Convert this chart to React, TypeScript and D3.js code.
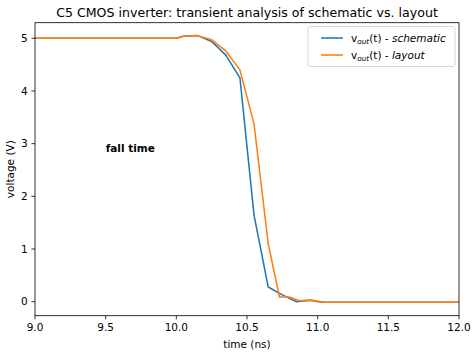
import React from "react";
import * as d3 from "d3";

const schematicTime = [9.0, 10.0, 10.05, 10.15, 10.25, 10.35, 10.45, 10.55, 10.65, 10.75, 10.85, 10.95, 11.0, 11.05, 12.0];
const schematicVout = [5.0, 5.0, 5.04, 5.05, 4.94, 4.68, 4.25, 1.64, 0.28, 0.13, 0.0, 0.03, 0.0, -0.01, -0.01];
const layoutTime = [9.0, 10.0, 10.05, 10.15, 10.25, 10.35, 10.45, 10.55, 10.65, 10.73, 10.8, 10.87, 10.95, 11.05, 12.0];
const layoutVout = [5.0, 5.0, 5.04, 5.05, 4.97, 4.76, 4.4, 3.37, 1.1, 0.09, 0.09, 0.02, 0.03, -0.01, -0.01];
const xTicks = [9.0, 9.5, 10.0, 10.5, 11.0, 11.5, 12.0];
const yTicks = [0, 1, 2, 3, 4, 5];

const W = 474, H = 354;
const L = 35, R = 459, T = 22.7, B = 315.7;
const FONT = "DejaVu Sans, sans-serif";
const BLUE = "#1f77b4", ORANGE = "#ff7f0e";
const FS = 10.5;

export default function App() {
  const x = d3.scaleLinear().domain([9, 12]).range([L, R]);
  const y = d3.scaleLinear().domain([-0.2655, 5.2955]).range([B, T]);
  const line = d3.line<[number, number]>().x(d => x(d[0])).y(d => y(d[1]));
  const s1 = schematicTime.map((t, i) => [t, schematicVout[i]] as [number, number]);
  const s2 = layoutTime.map((t, i) => [t, layoutVout[i]] as [number, number]);

  const legX = 308, legY = 26.5, legW = 147, legH = 40;
  const rows = [
    { color: BLUE, name: "schematic" },
    { color: ORANGE, name: "layout" },
  ];

  return (
    <svg width={W} height={H} style={{ position: "absolute", left: 0, top: 0 }} fontFamily={FONT}>
      <rect width={W} height={H} fill="white" />
      <text x={(L + R) / 2} y={17} textAnchor="middle" fontSize={12.6} fill="black">
        C5 CMOS inverter: transient analysis of schematic vs. layout
      </text>
      <defs>
        <clipPath id="clip"><rect x={L} y={T} width={R - L} height={B - T} /></clipPath>
      </defs>
      <g clipPath="url(#clip)">
        <path d={line(s1) || ""} fill="none" stroke={BLUE} strokeWidth={1.55} strokeLinejoin="round" />
        <path d={line(s2) || ""} fill="none" stroke={ORANGE} strokeWidth={1.55} strokeLinejoin="round" />
      </g>
      <text x={x(9.5)} y={y(2.85)} fontSize={FS} fontWeight="bold" fill="black">fall time</text>
      <rect x={L} y={T} width={R - L} height={B - T} fill="none" stroke="black" strokeWidth={0.8} />
      {xTicks.map(t => (
        <g key={"x" + t}>
          <line x1={x(t)} x2={x(t)} y1={B} y2={B + 3.6} stroke="black" strokeWidth={0.8} />
          <text x={x(t)} y={B + 7.2} dy="0.76em" textAnchor="middle" fontSize={FS} fill="black">{t.toFixed(1)}</text>
        </g>
      ))}
      {yTicks.map(v => (
        <g key={"y" + v}>
          <line x1={L - 3.6} x2={L} y1={y(v)} y2={y(v)} stroke="black" strokeWidth={0.8} />
          <text x={L - 7.2} y={y(v)} dy="0.36em" textAnchor="end" fontSize={FS} fill="black">{v}</text>
        </g>
      ))}
      <text x={(L + R) / 2} y={348} textAnchor="middle" fontSize={FS} fill="black">time (ns)</text>
      <text transform={`translate(14,${(T + B) / 2}) rotate(-90)`} textAnchor="middle" fontSize={FS} fill="black">voltage (V)</text>
      <rect x={legX} y={legY} width={legW} height={legH} rx={2.5} fill="white" fillOpacity={0.8} stroke="#cccccc" strokeWidth={0.8} />
      {rows.map((r, i) => {
        const cy = legY + 11.5 + i * 17;
        return (
          <g key={r.name}>
            <line x1={legX + 13} x2={legX + 35} y1={cy} y2={cy} stroke={r.color} strokeWidth={1.55} />
            <text x={legX + 43} y={cy} dy="0.36em" fontSize={FS} fill="black">
              v<tspan fontSize={7.3} fontStyle="italic" dy="2.2">out</tspan>
              <tspan dy="-2.2">(t) - </tspan>
              <tspan fontStyle="italic">{r.name}</tspan>
            </text>
          </g>
        );
      })}
    </svg>
  );
}
